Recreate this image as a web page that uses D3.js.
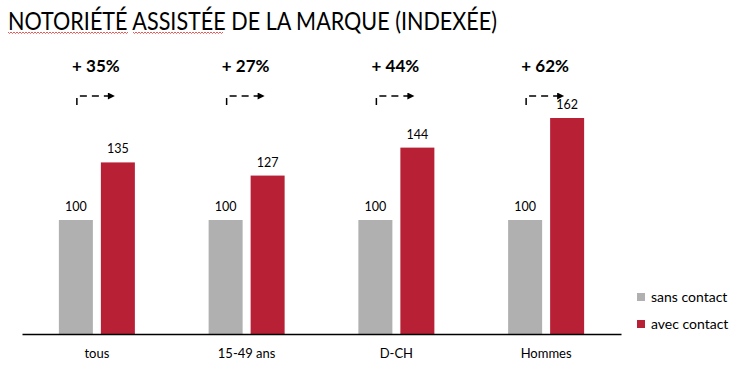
<!DOCTYPE html>
<html><head><meta charset="utf-8">
<script src="https://cdn.jsdelivr.net/npm/d3@7"></script>
<style>body{margin:0;background:#fff}svg{display:block}</style>
</head><body>
<script>
const title = "NOTORIÉTÉ ASSISTÉE DE LA MARQUE (INDEXÉE)";
const categories = ["tous", "15-49 ans", "D-CH", "Hommes"];
const sansContact = [100, 100, 100, 100];
const avecContact = [135, 127, 144, 162];
const deltaLabels = ["+ 35%", "+ 27%", "+ 44%", "+ 62%"];
const seriesNames = ["sans contact", "avec contact"];
const colors = ["#b0b0b0", "#b82035"];

const W = 742, H = 368;
const FONT = "Lato, 'Open Sans', sans-serif";
const svg = d3.select("body").append("svg").attr("width", W).attr("height", H)
  .style("font-family", FONT);

const x = d3.scaleBand().domain(categories).range([22, 621]).padding(0);
const y = d3.scaleLinear().domain([30.7, 162]).range([334, 118]);
const barW = 34, gap = 8;

// title
svg.append("text").attr("x", 8).attr("y", 30).attr("font-size", 24.5)
  .attr("textLength", 489).attr("lengthAdjust", "spacingAndGlyphs")
  .attr("fill", "#000").text(title);

// spell-check squiggles
function wavy(x0, x1, yy) {
  let d = `M${x0},${yy}`;
  for (let xx = x0, i = 0; xx < x1; xx += 1.5, i++) d += ` L${xx + 1.5},${yy + (i % 2 ? 0 : 1.5)}`;
  return d;
}
svg.append("path").attr("d", wavy(8, 127, 32)).attr("fill", "none").attr("stroke", "#e03030").attr("stroke-width", 0.8);
svg.append("path").attr("d", wavy(133, 223, 32)).attr("fill", "none").attr("stroke", "#e03030").attr("stroke-width", 0.8);

const g = svg.append("g");
const series = [sansContact, avecContact];
series.forEach((vals, si) => {
  const off = si === 0 ? -(barW + gap / 2) : gap / 2;
  g.selectAll(null).data(categories).enter().append("rect")
    .attr("x", d => x(d) + x.bandwidth() / 2 + off)
    .attr("y", (d, i) => y(vals[i]))
    .attr("width", barW)
    .attr("height", (d, i) => y(y.domain()[0]) - y(vals[i]))
    .attr("fill", colors[si]);
  g.selectAll(null).data(categories).enter().append("text")
    .attr("x", d => x(d) + x.bandwidth() / 2 + off + barW / 2)
    .attr("y", (d, i) => y(vals[i]) - 9)
    .attr("text-anchor", "middle").attr("font-size", 12.5).attr("fill", "#000")
    .text((d, i) => vals[i]);
});

// axis
const axis = d3.axisBottom(x).tickSize(0).tickPadding(15);
const ax = svg.append("g").attr("transform", "translate(0,334)").call(axis);
ax.select(".domain").attr("stroke", "#000").attr("stroke-width", 1.5);
ax.selectAll("text").attr("font-size", 13).attr("font-family", FONT).attr("fill", "#000");

// delta labels & arrows
svg.append("defs").append("marker").attr("id", "ah").attr("viewBox", "0 0 10 10")
  .attr("refX", 10).attr("refY", 5).attr("markerWidth", 8).attr("markerHeight", 7)
  .attr("markerUnits", "userSpaceOnUse").attr("orient", "auto")
  .append("path").attr("d", "M0,0 L10,5 L0,10 Z").attr("fill", "#000");

categories.forEach((c, i) => {
  const cx = x(c) + x.bandwidth() / 2;
  svg.append("text").attr("x", cx - 1).attr("y", 72).attr("text-anchor", "middle")
    .attr("font-size", 17).attr("font-weight", "bold").attr("fill", "#000").text(deltaLabels[i]);
  svg.append("path").attr("d", `M${cx - 20},105 V96 H${cx + 18}`)
    .attr("fill", "none").attr("stroke", "#000").attr("stroke-width", 1.5)
    .attr("stroke-dasharray", "7,5").attr("marker-end", "url(#ah)");
});

// legend
const lg = svg.append("g").attr("transform", "translate(637,293)");
seriesNames.forEach((n, i) => {
  lg.append("rect").attr("x", 0).attr("y", i * 27).attr("width", 8).attr("height", 8).attr("fill", colors[i]);
  lg.append("text").attr("x", 14).attr("y", i * 27 + 8.5).attr("font-size", 14).attr("fill", "#000").text(n);
});
</script>
</body></html>
